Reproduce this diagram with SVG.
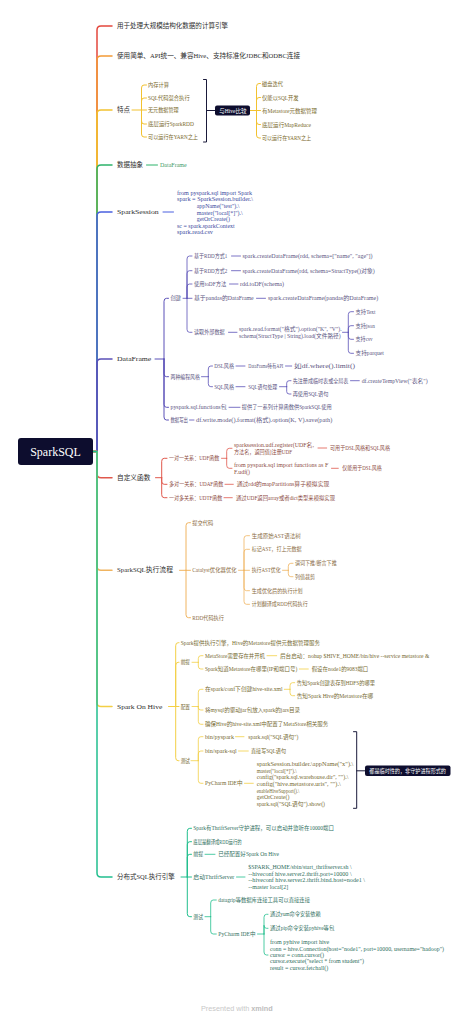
<svg xmlns="http://www.w3.org/2000/svg" width="474" height="1017" viewBox="0 0 474 1017">
<style>
text{font-family:"Liberation Serif","Noto Sans CJK SC",serif;dominant-baseline:central}
.t1{font-size:7px;fill:#2e2e2e}
.t2{font-size:5.5px}
.w{fill:#fff}
.cy{fill:#7a6a2c}.cg{fill:#3f9a68}.cb{fill:#3b4a9e}.cp{fill:#5b557f}.cr{fill:#8d4d45}.co{fill:#8a6c44}.ch{fill:#766a32}.ct{fill:#2f6f60}
path{fill:none;stroke-linecap:round;stroke-linejoin:round}
.L1{stroke-width:1.5}.L2{stroke-width:1}.L3{stroke-width:.8}
.sr{stroke:#e4473d}.so{stroke:#f39a36}.sy{stroke:#f2c230}.sg{stroke:#2db36a}.sb{stroke:#4a60e0}.sp{stroke:#5b50b8}.sr2{stroke:#e0584c}.so2{stroke:#f0b460}.sy2{stroke:#f3cf45}.st{stroke:#22bf8e}.sn{stroke:#1a1a3a}
.box{fill:#0d0d2e}
</style>
<rect width="474" height="1017" fill="#fff"/>
<g id="connectors">
<path class="L1 sr" d="M93,451.5 H97 V30 Q97,26 101,26 H112"/>
<path class="L1 so" d="M93,451.5 H97 V60 Q97,56 101,56 H112"/>
<path class="L1 sy" d="M93,451.5 H97 V114 Q97,110 101,110 H112"/>
<path class="L1 sg" d="M93,451.5 H97 V169 Q97,165 101,165 H112"/>
<path class="L1 sb" d="M93,451.5 H97 V216 Q97,212 101,212 H112"/>
<path class="L1 sp" d="M93,451.5 H97 V363 Q97,359 101,359 H112"/>
<path class="L1 sr2" d="M93,451.5 H97 V473.7 Q97,477.7 101,477.7 H112"/>
<path class="L1 so2" d="M93,451.5 H97 V566.3 Q97,570.3 101,570.3 H112"/>
<path class="L1 sy2" d="M93,451.5 H97 V702.5 Q97,706.5 101,706.5 H112"/>
<path class="L1 st" d="M93,451.5 H97 V873 Q97,877 101,877 H112"/>
<!-- 特点 -->
<path class="L2 sy" d="M132,110 H141.5 M141.5,110 V88 Q141.5,85 144,85 H146.5 M141.5,110 V101 Q141.5,98 144,98 H146.5 M141.5,110 H146.5 M141.5,110 V121 Q141.5,124 144,124 H146.5 M141.5,110 V134 Q141.5,137 144,137 H146.5"/>
<path class="L2 sn" d="M203.5,79.5 H206.5 V142 H203.5 M206.5,110.5 H215"/>
<path class="L2 sy" d="M250,110.5 H256.5 M256.5,110.5 V86.5 Q256.5,83.5 259,83.5 H260.5 M256.5,110.5 V100.5 Q256.5,97.5 259,97.5 H260.5 M256.5,110.5 H260.5 M256.5,110.5 V121.5 Q256.5,124.5 259,124.5 H260.5 M256.5,110.5 V135 Q256.5,138 259,138 H260.5"/>
<!-- 数据抽象 / SparkSession -->
<path class="L2 sg" d="M146.5,165 H157.5"/>
<path class="L2 sb" d="M163,212 H173.5"/>
<!-- DataFrame -->
<path class="L2 sp" d="M155,359 H164 M164,359 V301.3 Q164,298.3 166.5,298.3 H168.5 M164,359 V373.7 Q164,376.7 166.5,376.7 H168.5 M164,359 V404.3 Q164,407.3 166.5,407.3 H168.5 M164,359 V417 Q164,420 166.5,420 H168.5"/>
<path class="L3 sp" d="M183,298.3 H187 M187,298.3 V259 Q187,256 189.5,256 H192 M187,298.3 V273.7 Q187,270.7 189.5,270.7 H192 M187,298.3 V287 Q187,284 189.5,284 H192 M187,298.3 H192 M187,298.3 V329.3 Q187,332.3 189.5,332.3 H192"/>
<path class="L3 sp" d="M231.5,256 H240.5 M231.5,270.7 H240.5 M229.5,284 H238 M256.5,298.3 H265.5 M228.5,332.3 H237"/>
<path class="L3 sp" d="M342.5,332.3 H348.3 M348.3,332.3 V314.7 Q348.3,311.7 350.8,311.7 H353.5 M348.3,332.3 V328.7 Q348.3,325.7 350.8,325.7 H353.5 M348.3,332.3 V336.3 Q348.3,339.3 350.8,339.3 H353.5 M348.3,332.3 V350.3 Q348.3,353.3 350.8,353.3 H353.5"/>
<path class="L3 sp" d="M201.5,376.7 H208.3 M208.3,376.7 V369 Q208.3,366 210.8,366 H212.5 M208.3,376.7 V383.7 Q208.3,386.7 210.8,386.7 H212.5"/>
<path class="L3 sp" d="M236,366 H245 M285.5,366 H291.7 M236,386.7 H245 M279.5,386.7 H286.7 M286.7,386.7 V383.2 Q286.7,380.7 289.2,380.7 H291 M286.7,386.7 V391.5 Q286.7,394 289.2,394 H291 M350.5,380.7 H359.3 M229,407.3 H240 M189.5,420 H194"/>
<!-- 自定义函数 -->
<path class="L2 sr2" d="M155.5,477.7 H161.7 M161.7,477.7 V461.3 Q161.7,458.3 164.2,458.3 H167 M161.7,477.7 V481.3 Q161.7,484.3 164.2,484.3 H167 M161.7,477.7 V494.7 Q161.7,497.7 164.2,497.7 H167"/>
<path class="L3 sr2" d="M221.5,458.3 H226.7 M226.7,458.3 V451.3 Q226.7,448.3 229.2,448.3 H232 M226.7,458.3 V465.3 Q226.7,468.3 229.2,468.3 H232 M318,448 H326.7 M331.5,468.3 H338.3 M225,484.3 H233.3 M224,497.7 H232.3"/>
<!-- 执行流程 -->
<path class="L2 so2" d="M179.5,570.3 H186 M186,570.3 V525.7 Q186,522.7 188.5,522.7 H190.5 M186,570.3 H190.5 M186,570.3 V614.7 Q186,617.7 188.5,617.7 H190.5"/>
<path class="L3 so2" d="M238.5,570.3 H244 M244,570.3 V538.7 Q244,535.7 246.5,535.7 H249.5 M244,570.3 V552.3 Q244,549.3 246.5,549.3 H249.5 M244,570.3 H249.5 M244,570.3 V587.7 Q244,590.7 246.5,590.7 H249.5 M244,570.3 V601.3 Q244,604.3 246.5,604.3 H249.5"/>
<path class="L3 so2" d="M282.5,570.3 H288.3 M288.3,570.3 V566.3 Q288.3,563.3 290.8,563.3 H293 M288.3,570.3 V573.7 Q288.3,576.7 290.8,576.7 H293"/>
<!-- Spark On Hive -->
<path class="L2 sy2" d="M168.5,706.5 H175.7 M175.7,706.5 V645.7 Q175.7,642.7 178.2,642.7 H179 M175.7,706.5 V665.3 Q175.7,662.3 178.2,662.3 H179 M175.7,706.5 H179 M175.7,706.5 V757.7 Q175.7,760.7 178.2,760.7 H179"/>
<path class="L3 sy2" d="M192,662.3 H198.3 M198.3,662.3 V658.7 Q198.3,655.7 200.8,655.7 H203 M198.3,662.3 V666 Q198.3,669 200.8,669 H203 M267,655.7 H276.7 M299.3,669 H308.3"/>
<path class="L3 sy2" d="M192,706.5 H198.3 M198.3,706.5 V692.3 Q198.3,689.3 200.8,689.3 H203 M198.3,706.5 V707.5 Q198.3,710 200.8,710 H203 M198.3,706.5 V721.3 Q198.3,724.3 200.8,724.3 H203"/>
<path class="L3 sy2" d="M284.3,689.3 H290 M290,689.3 V685.7 Q290,682.7 292.5,682.7 H294.7 M290,689.3 V692.7 Q290,695.7 292.5,695.7 H294.7"/>
<path class="L3 sy2" d="M191,760.7 H198.3 M198.3,760.7 V739.7 Q198.3,736.7 200.8,736.7 H203 M198.3,760.7 V754 Q198.3,751 200.8,751 H203 M198.3,760.7 V780.3 Q198.3,783.3 200.8,783.3 H203 M235.5,736.7 H244 M238.5,751 H248.3 M244.5,783.3 H253.3"/>
<path class="L2 sn" d="M353.5,731.7 H356.7 V808.3 H353.5 M356.7,770.8 H365"/>
<!-- 分布式 -->
<path class="L2 st" d="M181,877 H187.3 M187.3,877 V831.3 Q187.3,828.3 189.8,828.3 H191.5 M187.3,877 V844.7 Q187.3,841.7 189.8,841.7 H191.5 M187.3,877 V857.3 Q187.3,854.3 189.8,854.3 H191.5 M187.3,877 H191.5 M187.3,877 V913.7 Q187.3,916.7 189.8,916.7 H191.5"/>
<path class="L3 st" d="M205,854.3 H215 M236.5,877 H245 M205,916.7 H210.7 M210.7,916.7 V903 Q210.7,900 213.2,900 H216.3 M210.7,916.7 V931 Q210.7,934 213.2,934 H216.3"/>
<path class="L3 st" d="M257.5,934 H264 M264,934 V917.3 Q264,914.3 266.5,914.3 H268 M264,934 V925.3 Q264,928.3 266.5,928.3 H268 M264,934 V952 Q264,955 266.5,955 H268"/>
</g>
<g id="root">
<rect class="box" x="18" y="438" width="75" height="27" rx="3"/>
<text x="55.5" y="451.5" text-anchor="middle" font-size="12" class="w">SparkSQL</text>
</g>
<g id="n-intro"><text class="t1" x="117" y="26" textLength="111" lengthAdjust="spacingAndGlyphs">用于处理大规模结构化数据的计算引擎</text></g>
<g id="n-use"><text class="t1" x="117" y="56" textLength="183" lengthAdjust="spacingAndGlyphs">使用简单、API统一、兼容Hive、支持标准化JDBC和ODBC连接</text></g>
<g id="n-feature">
<text class="t1" x="117" y="110" textLength="13" lengthAdjust="spacingAndGlyphs">特点</text>
<text class="t2 cy" x="148" y="85" textLength="21" lengthAdjust="spacingAndGlyphs">内存计算</text>
<text class="t2 cy" x="148" y="98" textLength="41.7" lengthAdjust="spacingAndGlyphs">SQL代码混合执行</text>
<text class="t2 cy" x="148" y="110" textLength="30.7" lengthAdjust="spacingAndGlyphs">无元数据管理</text>
<text class="t2 cy" x="148" y="124" textLength="46" lengthAdjust="spacingAndGlyphs">底层运行SparkRDD</text>
<text class="t2 cy" x="148" y="137" textLength="50" lengthAdjust="spacingAndGlyphs">可以运行在YARN之上</text>
</g>
<g id="n-hive-compare">
<rect class="box" x="215" y="105.5" width="35" height="10" rx="2"/>
<text class="t2 w" x="219.3" y="110.5" textLength="27.3" lengthAdjust="spacingAndGlyphs">与Hive比较</text>
<text class="t2 cy" x="262" y="83.5" textLength="21" lengthAdjust="spacingAndGlyphs">磁盘迭代</text>
<text class="t2 cy" x="262" y="97.5" textLength="36.7" lengthAdjust="spacingAndGlyphs">仅能以SQL开发</text>
<text class="t2 cy" x="262" y="110.5" textLength="55" lengthAdjust="spacingAndGlyphs">有Metastore元数据管理</text>
<text class="t2 cy" x="262" y="124.5" textLength="49" lengthAdjust="spacingAndGlyphs">底层运行MapReduce</text>
<text class="t2 cy" x="262" y="138" textLength="49" lengthAdjust="spacingAndGlyphs">可以运行在YARN之上</text>
</g>
<g id="n-abstract">
<text class="t1" x="117" y="165" textLength="26" lengthAdjust="spacingAndGlyphs">数据抽象</text>
<text class="t2 cg" x="160" y="165" textLength="26.7" lengthAdjust="spacingAndGlyphs">DataFrame</text>
</g>
<g id="n-sparksession">
<text class="t1" x="117" y="212" textLength="41.7" lengthAdjust="spacingAndGlyphs">SparkSession</text>
<text class="t2 cb" x="177" y="192.7" textLength="75" lengthAdjust="spacingAndGlyphs">from pyspark.sql import Spark</text>
<text class="t2 cb" x="177" y="199.3" textLength="76" lengthAdjust="spacingAndGlyphs">spark = SparkSession.builder.\</text>
<text class="t2 cb" x="196.7" y="205.9" textLength="42.7" lengthAdjust="spacingAndGlyphs">appName("test").\</text>
<text class="t2 cb" x="196.7" y="212.5" textLength="46" lengthAdjust="spacingAndGlyphs">master("local[*]").\</text>
<text class="t2 cb" x="196.7" y="219.1" textLength="33.3" lengthAdjust="spacingAndGlyphs">getOrCreate()</text>
<text class="t2 cb" x="177" y="225.7" textLength="57.7" lengthAdjust="spacingAndGlyphs">sc = spark.sparkContext</text>
<text class="t2 cb" x="177" y="232.3" textLength="36" lengthAdjust="spacingAndGlyphs">spark.read.csv</text>
</g>
<g id="n-dataframe">
<text class="t1" x="117" y="359" textLength="34.3" lengthAdjust="spacingAndGlyphs">DataFrame</text>
<text class="t2 cp" x="170.5" y="298.3" textLength="10.7" lengthAdjust="spacingAndGlyphs">创建</text>
<text class="t2 cp" x="194" y="256" textLength="33.3" lengthAdjust="spacingAndGlyphs">基于RDD方式1</text>
<text class="t2 cp" x="242.5" y="256" textLength="130" lengthAdjust="spacingAndGlyphs">spark.createDataFrame(rdd, schema=["name", "age"])</text>
<text class="t2 cp" x="194" y="270.7" textLength="33.3" lengthAdjust="spacingAndGlyphs">基于RDD方式2</text>
<text class="t2 cp" x="242.5" y="270.7" textLength="132.3" lengthAdjust="spacingAndGlyphs">spark.createDataFrame(rdd, schema=StructType()对象)</text>
<text class="t2 cp" x="194" y="284" textLength="32.3" lengthAdjust="spacingAndGlyphs">使用toDF方法</text>
<text class="t2 cp" x="240" y="284" textLength="44" lengthAdjust="spacingAndGlyphs">rdd.toDF(schema)</text>
<text class="t2 cp" x="194" y="298.3" textLength="59.7" lengthAdjust="spacingAndGlyphs">基于pandas的DataFrame</text>
<text class="t2 cp" x="268" y="298.3" textLength="110.3" lengthAdjust="spacingAndGlyphs">spark.createDataFrame(pandas的DataFrame)</text>
<text class="t2 cp" x="194" y="332.3" textLength="30.7" lengthAdjust="spacingAndGlyphs">读取外部数据</text>
<text class="t2 cp" x="239" y="329.2" textLength="102.7" lengthAdjust="spacingAndGlyphs">spark.read.format("格式").option("K", "V").</text>
<text class="t2 cp" x="239" y="335.6" textLength="101.7" lengthAdjust="spacingAndGlyphs">schema(StructType | String).load(文件路径)</text>
<text class="t2 cp" x="355.5" y="311.7" textLength="20" lengthAdjust="spacingAndGlyphs">支持Text</text>
<text class="t2 cp" x="355.5" y="325.7" textLength="19.3" lengthAdjust="spacingAndGlyphs">支持json</text>
<text class="t2 cp" x="355.5" y="339.3" textLength="17" lengthAdjust="spacingAndGlyphs">支持csv</text>
<text class="t2 cp" x="355.5" y="353.3" textLength="28.3" lengthAdjust="spacingAndGlyphs">支持parquet</text>
<text class="t2 cp" x="170.5" y="376.7" textLength="29.3" lengthAdjust="spacingAndGlyphs">两种编程风格</text>
<text class="t2 cp" x="214.3" y="366" textLength="19.7" lengthAdjust="spacingAndGlyphs">DSL风格</text>
<text class="t2 cp" x="248.3" y="366" textLength="35" lengthAdjust="spacingAndGlyphs">DataFrame特有API</text>
<text class="t2 cp" x="294" y="366" textLength="61" lengthAdjust="spacingAndGlyphs">如df.where().limit()</text>
<text class="t2 cp" x="214.3" y="386.7" textLength="19.7" lengthAdjust="spacingAndGlyphs">SQL风格</text>
<text class="t2 cp" x="248.3" y="386.7" textLength="29" lengthAdjust="spacingAndGlyphs">SQL语句处理</text>
<text class="t2 cp" x="292.7" y="380.7" textLength="55.7" lengthAdjust="spacingAndGlyphs">先注册成临时表或全局表</text>
<text class="t2 cp" x="361.7" y="380.7" textLength="66" lengthAdjust="spacingAndGlyphs">df.createTempView("表名")</text>
<text class="t2 cp" x="292.7" y="394" textLength="35.7" lengthAdjust="spacingAndGlyphs">再使用SQL语句</text>
<text class="t2 cp" x="170.5" y="407.3" textLength="56" lengthAdjust="spacingAndGlyphs">pyspark.sql.functions包</text>
<text class="t2 cp" x="241.7" y="407.3" textLength="90" lengthAdjust="spacingAndGlyphs">提供了一系列计算函数供SparkSQL使用</text>
<text class="t2 cp" x="170.5" y="420" textLength="17.5" lengthAdjust="spacingAndGlyphs">数据写出</text>
<text class="t2 cp" x="196" y="420" textLength="136.3" lengthAdjust="spacingAndGlyphs">df.write.mode().format(格式).option(K, V).save(path)</text>
</g>
<g id="n-udf">
<text class="t1" x="117" y="477.7" textLength="33.3" lengthAdjust="spacingAndGlyphs">自定义函数</text>
<text class="t2 cr" x="169" y="458.3" textLength="50.3" lengthAdjust="spacingAndGlyphs">一对一关系：UDF函数</text>
<text class="t2 cr" x="234" y="445" textLength="80" lengthAdjust="spacingAndGlyphs">sparksession.udf.register(UDF名,</text>
<text class="t2 cr" x="234" y="451.7" textLength="58" lengthAdjust="spacingAndGlyphs">方法名，返回值)注册UDF</text>
<text class="t2 cr" x="330" y="447.7" textLength="60" lengthAdjust="spacingAndGlyphs">可用于DSL风格和SQL风格</text>
<text class="t2 cr" x="234" y="465" textLength="94.3" lengthAdjust="spacingAndGlyphs">from pyspark.sql import functions as F</text>
<text class="t2 cr" x="234" y="471.7" textLength="16" lengthAdjust="spacingAndGlyphs">F.udf()</text>
<text class="t2 cr" x="342.3" y="468.3" textLength="39.4" lengthAdjust="spacingAndGlyphs">仅能用于DSL风格</text>
<text class="t2 cr" x="169" y="484.3" textLength="54.3" lengthAdjust="spacingAndGlyphs">多对一关系：UDAF函数</text>
<text class="t2 cr" x="236.7" y="484.3" textLength="92.6" lengthAdjust="spacingAndGlyphs">通过rdd的mapPartitions算子模拟实现</text>
<text class="t2 cr" x="169" y="497.7" textLength="53.3" lengthAdjust="spacingAndGlyphs">一对多关系：UDTF函数</text>
<text class="t2 cr" x="236" y="497.7" textLength="99" lengthAdjust="spacingAndGlyphs">通过UDF返回array或者dict类型来模拟实现</text>
</g>
<g id="n-flow">
<text class="t1" x="117" y="570.3" textLength="56" lengthAdjust="spacingAndGlyphs">SparkSQL执行流程</text>
<text class="t2 co" x="192.3" y="522.7" textLength="21" lengthAdjust="spacingAndGlyphs">提交代码</text>
<text class="t2 co" x="192.3" y="570.3" textLength="44.3" lengthAdjust="spacingAndGlyphs">Catalyst优化器优化</text>
<text class="t2 co" x="251.7" y="535.7" textLength="49" lengthAdjust="spacingAndGlyphs">生成原始AST语法树</text>
<text class="t2 co" x="251.7" y="549.3" textLength="50" lengthAdjust="spacingAndGlyphs">标记AST，打上元数据</text>
<text class="t2 co" x="251.7" y="570.3" textLength="29" lengthAdjust="spacingAndGlyphs">执行AST优化</text>
<text class="t2 co" x="295" y="563.3" textLength="41.7" lengthAdjust="spacingAndGlyphs">谓词下推/断言下推</text>
<text class="t2 co" x="295" y="576.7" textLength="20" lengthAdjust="spacingAndGlyphs">列值裁剪</text>
<text class="t2 co" x="251.7" y="590.7" textLength="51" lengthAdjust="spacingAndGlyphs">生成优化后的执行计划</text>
<text class="t2 co" x="251.7" y="604.3" textLength="56" lengthAdjust="spacingAndGlyphs">计划翻译成RDD代码执行</text>
<text class="t2 co" x="192.3" y="617.7" textLength="31.7" lengthAdjust="spacingAndGlyphs">RDD代码执行</text>
</g>
<g id="n-hive">
<text class="t1" x="117" y="706.5" textLength="45.3" lengthAdjust="spacingAndGlyphs">Spark On Hive</text>
<text class="t2 ch" x="180.7" y="642.7" textLength="139.3" lengthAdjust="spacingAndGlyphs">Spark提供执行引擎，Hive的Metastore提供元数据管理服务</text>
<text class="t2 ch" x="180.7" y="662.3" textLength="9.3" lengthAdjust="spacingAndGlyphs">前提</text>
<text class="t2 ch" x="205" y="655.7" textLength="60" lengthAdjust="spacingAndGlyphs">MetaStore需要存在并开机</text>
<text class="t2 ch" x="280" y="655.7" textLength="149.3" lengthAdjust="spacingAndGlyphs">后台启动：nohup $HIVE_HOME/bin/hive --service metastore &amp;</text>
<text class="t2 ch" x="205" y="669" textLength="92.3" lengthAdjust="spacingAndGlyphs">Spark知道Metastore在哪里(IP和端口号)</text>
<text class="t2 ch" x="311.7" y="669" textLength="56.6" lengthAdjust="spacingAndGlyphs">假设在node1的9083端口</text>
<text class="t2 ch" x="180.7" y="706.5" textLength="9.3" lengthAdjust="spacingAndGlyphs">配置</text>
<text class="t2 ch" x="205" y="689.3" textLength="77.7" lengthAdjust="spacingAndGlyphs">在spark/conf下创建hive-site.xml</text>
<text class="t2 ch" x="296.7" y="682.7" textLength="78.3" lengthAdjust="spacingAndGlyphs">告知Spark创建表存到HDFS的哪里</text>
<text class="t2 ch" x="296.7" y="695.7" textLength="76.6" lengthAdjust="spacingAndGlyphs">告知Spark Hive的Metastore在哪</text>
<text class="t2 ch" x="205" y="710" textLength="95" lengthAdjust="spacingAndGlyphs">将mysql的驱动jar包放入spark的jars目录</text>
<text class="t2 ch" x="205" y="724.3" textLength="123.3" lengthAdjust="spacingAndGlyphs">确保Hive的hive-site.xml中配置了MetaStore相关服务</text>
<text class="t2 ch" x="180.7" y="760.7" textLength="9.3" lengthAdjust="spacingAndGlyphs">测试</text>
<text class="t2 ch" x="205" y="736.7" textLength="29" lengthAdjust="spacingAndGlyphs">bin/pyspark</text>
<text class="t2 ch" x="248.3" y="736.7" textLength="50" lengthAdjust="spacingAndGlyphs">spark.sql("SQL语句")</text>
<text class="t2 ch" x="205" y="751" textLength="31.7" lengthAdjust="spacingAndGlyphs">bin/spark-sql</text>
<text class="t2 ch" x="251" y="751" textLength="35" lengthAdjust="spacingAndGlyphs">直接写SQL语句</text>
<text class="t2 ch" x="205" y="783.3" textLength="37.7" lengthAdjust="spacingAndGlyphs">PyCharm IDE中</text>
<text class="t2 ch" x="256.7" y="764" textLength="96.7" lengthAdjust="spacingAndGlyphs">sparkSession.builder.\appName("x").\</text>
<text class="t2 ch" x="256.7" y="770.7" textLength="40" lengthAdjust="spacingAndGlyphs">master("local[*]").\</text>
<text class="t2 ch" x="256.7" y="777.3" textLength="91.7" lengthAdjust="spacingAndGlyphs">config("spark.sql.warehouse.dir", "").\</text>
<text class="t2 ch" x="256.7" y="784" textLength="84" lengthAdjust="spacingAndGlyphs">config("hive.metastore.uris", "").\</text>
<text class="t2 ch" x="256.7" y="790.7" textLength="42.7" lengthAdjust="spacingAndGlyphs">enableHiveSupport().\</text>
<text class="t2 ch" x="256.7" y="797.3" textLength="32.7" lengthAdjust="spacingAndGlyphs">getOrCreate()</text>
<text class="t2 ch" x="256.7" y="804" textLength="68.3" lengthAdjust="spacingAndGlyphs">spark.sql("SQL语句").show()</text>
</g>
<g id="n-temporary">
<rect class="box" x="365" y="765.5" width="85.5" height="10.5" rx="2"/>
<text class="t2 w" x="369.3" y="770.8" textLength="76.7" lengthAdjust="spacingAndGlyphs">都是临时性的，非守护进程形式的</text>
</g>
<g id="n-dist">
<text class="t1" x="117" y="877" textLength="57.7" lengthAdjust="spacingAndGlyphs">分布式SQL执行引擎</text>
<text class="t2 ct" x="193.3" y="828.3" textLength="140.7" lengthAdjust="spacingAndGlyphs">Spark有ThriftServer守护进程，可以启动并监听在10000端口</text>
<text class="t2 ct" x="193.3" y="841.7" textLength="48.3" lengthAdjust="spacingAndGlyphs">底层是翻译成RDD运行的</text>
<text class="t2 ct" x="193.3" y="854.3" textLength="10" lengthAdjust="spacingAndGlyphs">前提</text>
<text class="t2 ct" x="218.3" y="854.3" textLength="60.7" lengthAdjust="spacingAndGlyphs">已经配置好Spark On Hive</text>
<text class="t2 ct" x="193.3" y="877" textLength="41" lengthAdjust="spacingAndGlyphs">启动ThriftServer</text>
<text class="t2 ct" x="248.3" y="867" textLength="103.3" lengthAdjust="spacingAndGlyphs">$SPARK_HOME/sbin/start_thriftserver.sh \</text>
<text class="t2 ct" x="248.3" y="873.7" textLength="103.3" lengthAdjust="spacingAndGlyphs">--hiveconf hive.server2.thrift.port=10000 \</text>
<text class="t2 ct" x="248.3" y="880.3" textLength="116.7" lengthAdjust="spacingAndGlyphs">--hiveconf hive.server2.thrift.bind.host=node1 \</text>
<text class="t2 ct" x="248.3" y="887" textLength="40" lengthAdjust="spacingAndGlyphs">--master local[2]</text>
<text class="t2 ct" x="193.3" y="916.7" textLength="9.7" lengthAdjust="spacingAndGlyphs">测试</text>
<text class="t2 ct" x="218.3" y="900" textLength="91.7" lengthAdjust="spacingAndGlyphs">datagrip等数据库连接工具可以直接连接</text>
<text class="t2 ct" x="218.3" y="934" textLength="37.3" lengthAdjust="spacingAndGlyphs">PyCharm IDE中</text>
<text class="t2 ct" x="270" y="914.3" textLength="50.7" lengthAdjust="spacingAndGlyphs">通过yum命令安装依赖</text>
<text class="t2 ct" x="270" y="928.3" textLength="64.3" lengthAdjust="spacingAndGlyphs">通过pip命令安装pyhive等包</text>
<text class="t2 ct" x="270" y="942.3" textLength="59.3" lengthAdjust="spacingAndGlyphs">from pyhive import hive</text>
<text class="t2 ct" x="270" y="948.7" textLength="174" lengthAdjust="spacingAndGlyphs">conn = hive.Connection(host="node1", port=10000, username="hadoop")</text>
<text class="t2 ct" x="270" y="955" textLength="54" lengthAdjust="spacingAndGlyphs">cursor = conn.cursor()</text>
<text class="t2 ct" x="270" y="961.3" textLength="94" lengthAdjust="spacingAndGlyphs">cursor.execute("select * from student")</text>
<text class="t2 ct" x="270" y="967.7" textLength="58.3" lengthAdjust="spacingAndGlyphs">result = cursor.fetchall()</text>
</g>
<g id="footer">
<text x="201" y="1008" font-size="7.3" fill="#c8c8c8" style="font-family:'Liberation Sans',sans-serif">Presented with <tspan font-weight="bold" fill="#bdbdbd">xmind</tspan></text>
</g>
</svg>
